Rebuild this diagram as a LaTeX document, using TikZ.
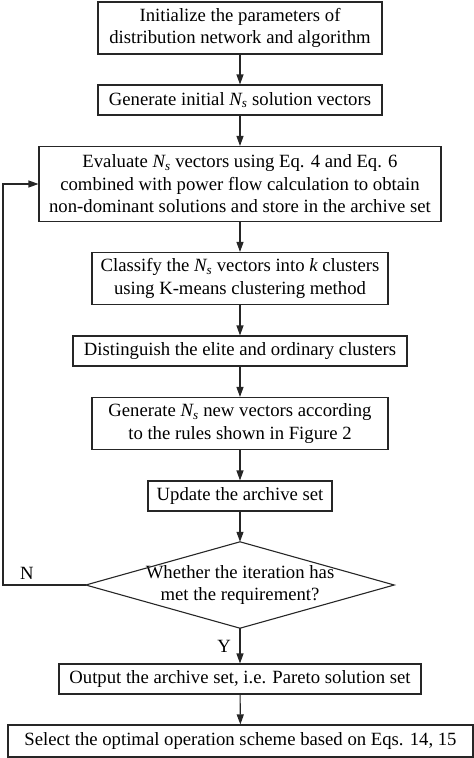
\documentclass[tikz,border=0pt]{standalone}
\usepackage{fontspec}
\setmainfont{Liberation Serif}
\usetikzlibrary{arrows.meta}
\newcommand{\Ns}{{\itshape N}\textsubscript{\itshape s}}
\begin{document}
\begin{tikzpicture}[x=1pt,y=-1pt,
  every node/.style={font=\fontsize{18.7}{22.5}\selectfont},
  box/.style={draw=black!85,line width=1.1pt,rectangle,inner sep=0pt,align=center},
  decision/.style={rectangle,inner sep=0pt,align=center},
  outline/.style={draw=black!85,line width=1.1pt,line join=miter},
  arr/.style={draw=black!85,line width=1.1pt,-{Triangle[length=10pt,width=7pt]}},
  lbl/.style={inner sep=0pt}]
\useasboundingbox (0,0) rectangle (474,758);
\node[box,minimum width=284pt,minimum height=52pt] (b1) at (240,28) {Initialize the parameters of\\distribution network and algorithm};
\node[box,minimum width=284pt,minimum height=30pt] (b2) at (240,100) {Generate initial \Ns{} solution vectors};
\node[box,minimum width=402pt,minimum height=75pt] (b3) at (240,184) {Evaluate \Ns{} vectors using Eq. 4 and Eq. 6\\combined with power flow calculation to obtain\\non-dominant solutions and store in the archive set};
\node[box,minimum width=296pt,minimum height=52pt] (b4) at (240,278.5) {Classify the \Ns{} vectors into {\itshape k} clusters\\using K-means clustering method};
\node[box,minimum width=334pt,minimum height=30pt] (b5) at (240,351) {Distinguish the elite and ordinary clusters};
\node[box,minimum width=296pt,minimum height=52pt] (b6) at (240,423.5) {Generate \Ns{} new vectors according\\to the rules shown in Figure 2};
\node[box,minimum width=184pt,minimum height=30pt] (b7) at (240,496) {Update the archive set};
\node[decision,minimum width=308pt,minimum height=86pt] (d) at (240,585) {Whether the iteration has\\met the requirement?};
\draw[outline] (d.west) -- (d.north) -- (d.east) -- (d.south) -- cycle;
\node[box,minimum width=362pt,minimum height=30pt] (b8) at (240,679) {Output the archive set, i.e. Pareto solution set};
\node[box,minimum width=465pt,minimum height=32pt] (b9) at (240.5,741) {Select the optimal operation scheme based on Eqs. 14, 15};
\node[lbl] (n) at (27,573) {N};
\node[lbl] (y) at (224,646) {Y};
\coordinate (c1) at (3,585);
\coordinate (c2) at (3,184);
\draw[arr] (b1) -- (b2);
\draw[arr] (b2) -- (b3);
\draw[arr] (b3) -- (b4);
\draw[arr] (b4) -- (b5);
\draw[arr] (b5) -- (b6);
\draw[arr] (b6) -- (b7);
\draw[arr] (b7) -- (d.north);
\draw[arr] (d.south) -- (b8);
\draw[arr] (b8) -- (b9);
\draw[arr] (d.west) -- (c1) -- (c2) -- (b3.west);
\end{tikzpicture}
\end{document}
